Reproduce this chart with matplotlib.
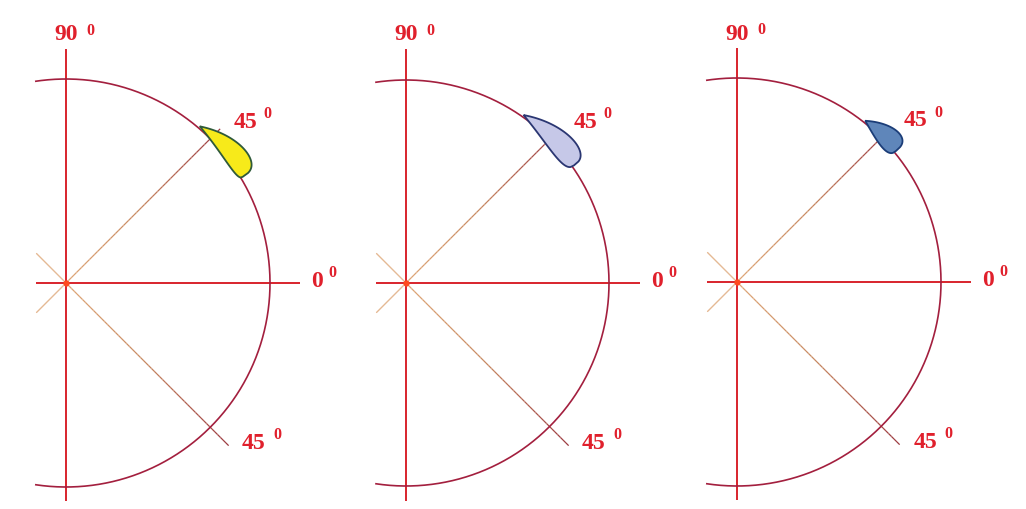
import numpy as np
import matplotlib
matplotlib.use("Agg")
import matplotlib.pyplot as plt
from matplotlib.collections import LineCollection
from matplotlib.colors import LinearSegmentedColormap

# three panels of the same polar sketch, each with one lobe near 45 degrees
panel_cx = [66, 406, 737]
panel_cy = [284, 284, 283]
radius = [204, 203, 204]

# lobe: angle of tip, angle of round end, bulge outside / inside the circle
lobe_tip = [49.5, 55.0, 51.5]
lobe_end = [31.0, 35.0, 39.5]
lobe_out = [17, 15, 14]
lobe_in = [5, 9, 8]
lobe_face = ["#f7ea1a", "#c6c8e8", "#5f86ba"]
lobe_edge = ["#2f5a3a", "#2a3672", "#1b3d78"]

label_main = ["90", "45", "0", "45"]
label_sup = ["0", "0", "0", "0"]
# offsets from panel centre (pixels): main text, superscript
label_off = [(0, -249), (179, -162), (251, -2), (188, 160)]
sup_off = [(24, -253), (201, -170), (266, -11), (211, 151)]

RED = "#d8242c"
ARC = "#a31f3e"
TXT = "#e0202c"

diag_cmap = LinearSegmentedColormap.from_list("diag", ["#e0a878", "#c88a62", "#9c3a40"])


def lobe_path(cx, cy, R, t0, t1, a_out, a_in, n=120):
    s = np.linspace(0, 1, n)
    g = s ** 1.0 * (1 - s) ** 0.35
    g = g / g.max()
    th = np.radians(t0 + (t1 - t0) * s)
    r_o = R + 2 + a_out * g
    r_i = R + 2 - a_in * g
    xo = cx + r_o * np.cos(th)
    yo = cy - r_o * np.sin(th)
    xi = cx + r_i * np.cos(th)
    yi = cy - r_i * np.sin(th)
    x = np.concatenate([xo, xi[::-1]])
    y = np.concatenate([yo, yi[::-1]])
    return x, y


def gradient_line(ax, x0, y0, x1, y1, c0, c1, lw):
    t = np.linspace(0, 1, 60)
    xs = x0 + (x1 - x0) * t
    ys = y0 + (y1 - y0) * t
    pts = np.column_stack([xs, ys]).reshape(-1, 1, 2)
    segs = np.concatenate([pts[:-1], pts[1:]], axis=1)
    lc = LineCollection(segs, cmap=diag_cmap, linewidths=lw)
    lc.set_array(np.linspace(c0, c1, len(segs)))
    lc.set_clim(0, 1)
    ax.add_collection(lc)


fig = plt.figure(figsize=(10.26, 5.10), dpi=100)
ax = fig.add_axes([0, 0, 1, 1])
ax.set_xlim(0, 1026)
ax.set_ylim(510, 0)
ax.axis("off")

for i in range(3):
    cx, cy, R = panel_cx[i], panel_cy[i], radius[i]
    d = np.sqrt(0.5)

    # diagonals: lower-left stub -> upper right, upper-left stub -> lower right
    gradient_line(ax, cx - 42 * d, cy + 42 * d, cx, cy, 0.0, 0.05, 0.9)
    gradient_line(ax, cx, cy, cx + 218 * d, cy - 218 * d, 0.05, 1.0, 0.9)
    gradient_line(ax, cx - 42 * d, cy - 42 * d, cx, cy, 0.0, 0.05, 0.9)
    gradient_line(ax, cx, cy, cx + 230 * d, cy + 230 * d, 0.05, 1.0, 0.9)

    # axes
    ax.plot([cx - 30, cx + 234], [cy, cy], color=RED, lw=1.4, solid_capstyle="butt")
    ax.plot([cx, cx], [cy - 234, cy + 218], color=RED, lw=1.4, solid_capstyle="butt")

    # circle arc
    th = np.radians(np.linspace(-98.5, 98.5, 400))
    ax.plot(cx + R * np.cos(th), cy - R * np.sin(th), color=ARC, lw=1.2)

    # lobe
    lx, ly = lobe_path(cx, cy, R, lobe_tip[i], lobe_end[i], lobe_out[i], lobe_in[i])
    ax.fill(lx, ly, facecolor=lobe_face[i], edgecolor=lobe_edge[i], lw=1.3, zorder=3)

    # centre dot
    ax.plot(cx, cy, "o", color="#ff4a1e", ms=4.5, mec="none", zorder=4)

    # labels
    for j in range(len(label_main)):
        ax.text(cx + label_off[j][0], cy + label_off[j][1], label_main[j],
                fontsize=17, fontweight="bold", family="Liberation Serif",
                color=TXT, ha="center", va="center")
        ax.text(cx + sup_off[j][0], cy + sup_off[j][1], label_sup[j],
                fontsize=11.5, fontweight="bold", family="Liberation Serif",
                color=TXT, ha="center", va="center")

fig.savefig("out.png", dpi=100, facecolor="white")
